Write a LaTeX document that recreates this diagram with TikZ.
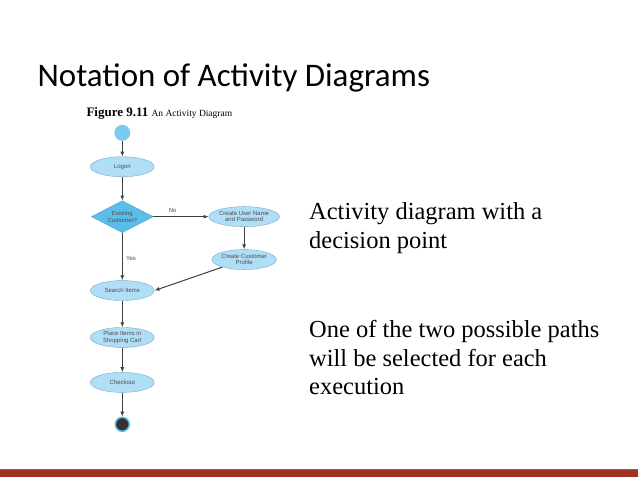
\documentclass[tikz,border=0pt]{standalone}
\usepackage{fontspec}
\setmainfont{Liberation Serif}
\newfontfamily\calfont{Carlito}
\newfontfamily\helvfont{Liberation Sans}
\usetikzlibrary{shapes.geometric,arrows.meta}
\definecolor{actfill}{RGB}{176,222,246}
\definecolor{actedge}{RGB}{120,170,200}
\definecolor{dia}{RGB}{90,190,235}
\definecolor{barred}{RGB}{160,50,35}
\definecolor{bargreen}{RGB}{90,120,90}
\begin{document}
\begin{tikzpicture}[x=1pt,y=-1pt,
  act/.style={ellipse,fill=actfill,draw=actedge,line width=0.4pt,minimum width=64pt,minimum height=20pt,inner sep=0pt,font=\helvfont\fontsize{6}{6.5}\selectfont,align=center,text=black!70},
  flow/.style={-{Latex[length=5pt,width=4pt]},line width=1pt,draw=black!75}]
\fill[white] (0,0) rectangle (638,478);
\fill[barred] (0,471) rectangle (638,478);
\draw[bargreen,line width=1pt] (0,470.5) -- (638,470.5);
\node[anchor=base west,inner sep=0pt,font=\calfont\fontsize{33}{36}\selectfont] (title) at (37,87) {Notation of Activity Diagrams};
\node[anchor=base west,inner sep=0pt,font=\fontsize{13}{14}\selectfont] (cap) at (86,117) {\textbf{Figure 9.11} {\fontsize{9.5}{10}\selectfont An Activity Diagram}};
\node[circle,fill=dia!80,minimum size=16pt,inner sep=0pt] (s) at (122,133) {};
\node[act] (logon) at (122,167) {Logon};
\node[diamond,fill=dia,draw=dia!80!black,line width=0.3pt,minimum width=62pt,minimum height=32pt,inner sep=0pt,aspect=2,font=\helvfont\fontsize{6}{6.5}\selectfont,align=center,text=black!70] (d) at (122,217) {Existing\\Customer?};
\node[act] (cu) at (244,217) {Create User Name\\and Password};
\node[act] (cp) at (244,260) {Create Customer\\Profile};
\node[act] (si) at (122,291) {Search Items};
\node[act] (pi) at (122,338) {Place Items in\\Shopping Cart};
\node[act] (co) at (122,383) {Checkout};
\node[circle,draw=dia,line width=1.5pt,fill=black!80,minimum size=14pt,inner sep=0pt] (e) at (122,425) {};
\draw[flow] (s) -- (logon);
\draw[flow] (logon) -- (d);
\draw[flow] (d) -- node[pos=0.35,above,font=\helvfont\fontsize{6}{6.5}\selectfont,text=black!70] {No} (cu);
\draw[flow] (cu) -- (cp);
\draw[flow] (d) -- node[pos=0.55,right,font=\helvfont\fontsize{6}{6.5}\selectfont,text=black!70] {Yes} (si);
\draw[flow] (cp) -- (si.east);
\draw[flow] (si) -- (pi);
\draw[flow] (pi) -- (co);
\draw[flow] (co) -- (e);
\node[anchor=north west,inner sep=0pt,align=left,font=\fontsize{24.5}{28.5}\selectfont] (t1) at (309,203) {Activity diagram with a\\decision point};
\node[anchor=north west,inner sep=0pt,align=left,font=\fontsize{24.5}{28.5}\selectfont] (t2) at (309,321) {One of the two possible paths\\will be selected for each\\execution};
\end{tikzpicture}
\end{document}
